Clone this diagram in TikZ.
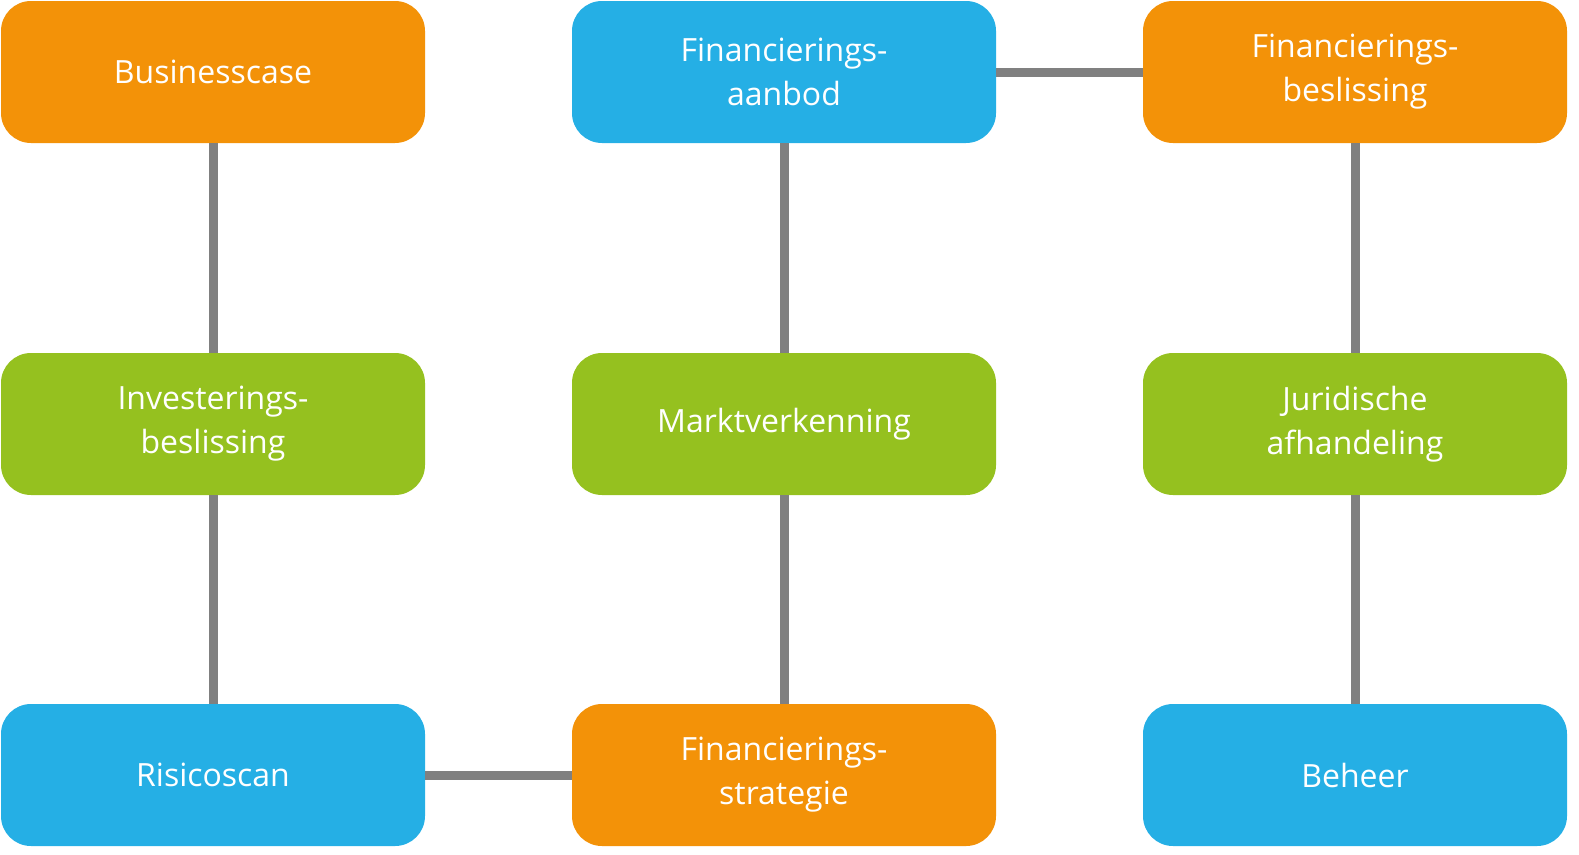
\documentclass[tikz,border=0pt]{standalone}
\usepackage{fontspec}
\setmainfont{Open Sans}
\definecolor{cOr}{HTML}{F39208}
\definecolor{cBl}{HTML}{25AFE5}
\definecolor{cGr}{HTML}{95C11F}
\definecolor{cLn}{HTML}{808080}
\begin{document}
\begin{tikzpicture}[x=1pt,y=-1pt,
  box/.style={rounded corners=30pt,minimum width=424pt,minimum height=142pt,inner sep=0pt,
    text=white,align=center,font=\fontsize{32}{44}\selectfont},
  lnk/.style={draw=cLn,line width=9pt}]
\useasboundingbox (0,0) rectangle (1579,854);
\node[box,fill=cOr] (a) at (213,72) {Businesscase};
\node[box,fill=cGr] (b) at (213,424) {Investerings-\\beslissing};
\node[box,fill=cBl] (c) at (213,775) {Risicoscan};
\node[box,fill=cOr] (d) at (784,775) {Financierings-\\strategie};
\node[box,fill=cGr] (e) at (784,424) {Marktverkenning};
\node[box,fill=cBl] (f) at (784,72) {Financierings-\\aanbod};
\node[box,fill=cOr] (g) at (1355,72) {Financierings-\\beslissing};
\node[box,fill=cGr] (h) at (1355,424) {Juridische\\afhandeling};
\node[box,fill=cBl] (i) at (1355,775) {Beheer};
\begin{scope}[on background layer/.try]
\end{scope}
\draw[lnk] (a) -- (b);
\draw[lnk] (b) -- (c);
\draw[lnk] (c) -- (d);
\draw[lnk] (d) -- (e);
\draw[lnk] (e) -- (f);
\draw[lnk] (f) -- (g);
\draw[lnk] (g) -- (h);
\draw[lnk] (h) -- (i);
\end{tikzpicture}
\end{document}
